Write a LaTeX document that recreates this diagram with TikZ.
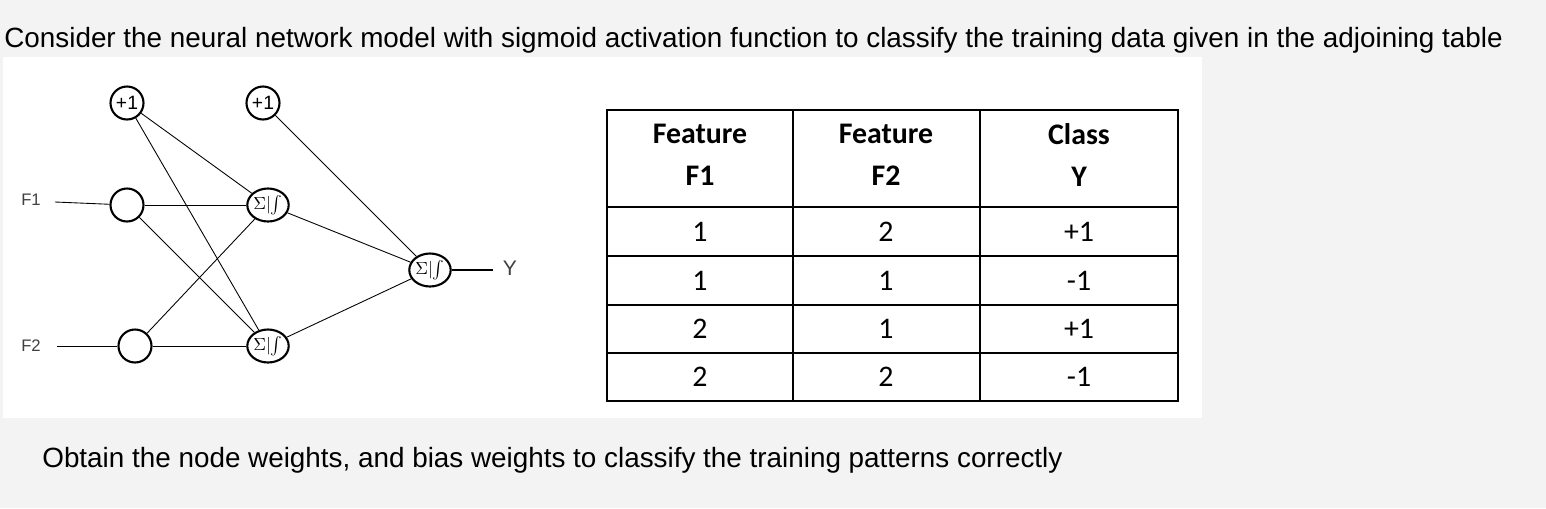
\documentclass[tikz,border=0pt]{standalone}
\usepackage{fontspec}
\setmainfont{Liberation Sans}
\newfontfamily\tabfont{Carlito}
\usetikzlibrary{shapes.geometric}
\definecolor{pagebg}{HTML}{F3F3F3}
\begin{document}
\begin{tikzpicture}[x=0.02cm,y=-0.02cm,
  neuron/.style={draw,line width=1.2pt,circle,minimum size=0.66cm,inner sep=0pt,font=\fontsize{11}{11}\selectfont},
  sumnode/.style={draw,line width=1.2pt,ellipse,minimum width=0.8cm,minimum height=0.66cm,inner sep=0pt,font=\fontsize{10}{10}\selectfont},
  conn/.style={line width=0.5pt},
  lbl/.style={font=\fontsize{9.5}{9.5}\selectfont,text=black!75},
  cell/.style={font=\tabfont\fontsize{17}{17}\selectfont},
  headcell/.style={align=center,font=\tabfont\bfseries\fontsize{17}{24}\selectfont}]
\fill[pagebg] (0,0) rectangle (1546,508);
\fill[white] (3,57) rectangle (1202,418);
\node[anchor=west,inner sep=0pt,font=\fontsize{15.85}{17}\selectfont] (title) at (4,40) {Consider the neural network model with sigmoid activation function to classify the training data given in the adjoining table};
\node[anchor=west,inner sep=0pt,font=\fontsize{15.85}{17}\selectfont] (bottom) at (42,460) {Obtain the node weights, and bias weights to classify the training patterns correctly};
% network
\node[neuron] (b1) at (127,103) {+1};
\node[neuron] (b2) at (263,103) {+1};
\node[neuron] (i1) at (127,205) {};
\node[neuron] (i2) at (135,346) {};
\node[sumnode] (h1) at (268,205) {$\Sigma|\!\int$};
\node[sumnode] (h2) at (268,346) {$\Sigma|\!\int$};
\node[sumnode] (o) at (430,270) {$\Sigma|\!\int$};
\node[lbl] (f1) at (31,200) {F1};
\node[lbl] (f2) at (31,346) {F2};
\node[lbl,font=\fontsize{12}{12}\selectfont] (y) at (510,268) {Y};
\coordinate (f1e) at (55,202);
\coordinate (f2e) at (57,346);
\coordinate (ye) at (493,270);
\draw[conn] (f1e) -- (i1);
\draw[conn] (f2e) -- (i2);
\draw[conn] (b1) -- (h1);
\draw[conn] (b1) -- (h2);
\draw[conn] (i1) -- (h1);
\draw[conn] (i1) -- (h2);
\draw[conn] (i2) -- (h1);
\draw[conn] (i2) -- (h2);
\draw[conn] (b2) -- (o);
\draw[conn] (h1) -- (o);
\draw[conn] (h2) -- (o);
\draw[line width=1pt] (o) -- (ye);
% table
\draw[line width=1.2pt] (607,110) rectangle (1178,401);
\foreach \yy in {207,256,305,353} \draw[line width=1.2pt] (607,\yy) -- (1178,\yy);
\foreach \xx in {793,980} \draw[line width=1.2pt] (\xx,110) -- (\xx,401);
\node[headcell] (h1c) at (700,155) {Feature\\F1};
\node[headcell] (h2c) at (886,155) {Feature\\F2};
\node[headcell] (h3c) at (1079,155) {Class\\Y};
\node[cell] (r11) at (700,232) {1}; \node[cell] (r12) at (886,232) {2}; \node[cell] (r13) at (1079,232) {+1};
\node[cell] (r21) at (700,281) {1}; \node[cell] (r22) at (886,281) {1}; \node[cell] (r23) at (1079,281) {-1};
\node[cell] (r31) at (700,329) {2}; \node[cell] (r32) at (886,329) {1}; \node[cell] (r33) at (1079,329) {+1};
\node[cell] (r41) at (700,377) {2}; \node[cell] (r42) at (886,377) {2}; \node[cell] (r43) at (1079,377) {-1};
\end{tikzpicture}
\end{document}
